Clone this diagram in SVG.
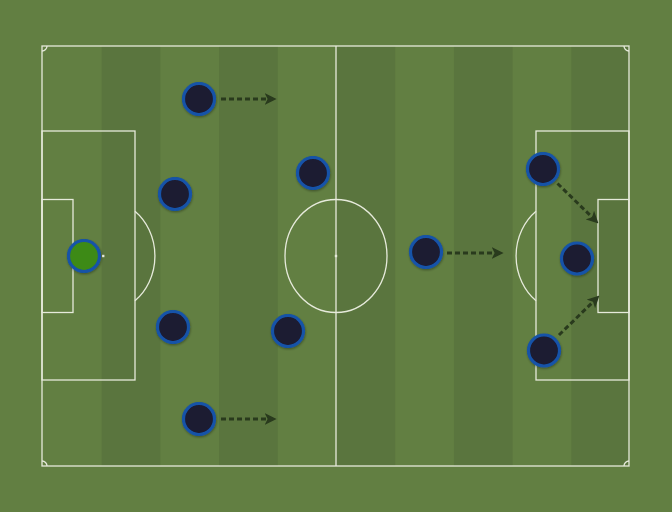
<svg xmlns="http://www.w3.org/2000/svg" width="672" height="512" viewBox="0 0 672 512">
<defs>
<style>
.ln{fill:none;stroke:#e6eadb;stroke-width:1.3}
.stripe{fill:#5a753e}
.pl{fill:#1c1a30;stroke:#1452a8;stroke-width:3.2}
.gk{fill:#3e8a15;stroke:#1452a8;stroke-width:3.2}
.ar{fill:none;stroke:#293a1d;stroke-width:3;stroke-dasharray:5 3;marker-end:url(#ah)}
</style>
<marker id="ah" markerUnits="userSpaceOnUse" markerWidth="12" markerHeight="12" refX="7" refY="5" orient="auto" viewBox="0 0 10 10">
<path d="M0,0 L10,5 L0,10 L2.5,5 Z" fill="#293a1d"/>
</marker>
<filter id="sh" x="-30%" y="-30%" width="160%" height="160%">
<feDropShadow dx="0.5" dy="1.2" stdDeviation="1" flood-color="#000" flood-opacity="0.35"/>
</filter>
</defs>
<rect width="672" height="512" fill="#627f42"/>
<g id="pitch">
<rect class="stripe" x="101.7" y="46" width="58.7" height="420"/>
<rect class="stripe" x="219.1" y="46" width="58.7" height="420"/>
<rect class="stripe" x="336.5" y="46" width="58.7" height="420"/>
<rect class="stripe" x="453.9" y="46" width="58.7" height="420"/>
<rect class="stripe" x="571.3" y="46" width="58.7" height="420"/>
<rect class="ln" x="42" y="46" width="587" height="420"/>
<line class="ln" x1="336" y1="46" x2="336" y2="466"/>
<ellipse class="ln" cx="336" cy="256" rx="51" ry="56.5"/>
<rect x="334.8" y="254.8" width="2.4" height="2.4" fill="#e6eadb"/>
<rect class="ln" x="42" y="131" width="93" height="249"/>
<rect class="ln" x="42" y="199.5" width="31" height="113"/>
<path class="ln" d="M135,211.3 A51.3,56.5 0 0 1 135,300.7"/>
<rect x="102" y="254.8" width="2.4" height="2.4" fill="#e6eadb"/>
<rect class="ln" x="536" y="131" width="93" height="249"/>
<rect class="ln" x="598" y="199.5" width="31" height="113"/>
<path class="ln" d="M536,211.3 A51.3,56.5 0 0 0 536,300.7"/>
<rect x="566.3" y="254.8" width="2.4" height="2.4" fill="#e6eadb"/>
<path class="ln" d="M42,51 A5,5 0 0 0 47,46"/>
<path class="ln" d="M624,46 A5,5 0 0 0 629,51"/>
<path class="ln" d="M42,461 A5,5 0 0 1 47,466"/>
<path class="ln" d="M624,466 A5,5 0 0 1 629,461"/>
</g>
<g id="connectors">
<line class="ar" x1="221" y1="99" x2="273" y2="99"/>
<line class="ar" x1="221" y1="419" x2="273" y2="419"/>
<line class="ar" x1="447" y1="253" x2="500" y2="253"/>
<line class="ar" x1="557.5" y1="183.5" x2="595.9" y2="220.9"/>
<line class="ar" x1="559" y1="335" x2="596.9" y2="298.1"/>
</g>
<g id="gk" filter="url(#sh)"><circle class="gk" cx="84" cy="256" r="15.5"/></g>
<g id="p2" filter="url(#sh)"><circle class="pl" cx="199" cy="99" r="15.5"/></g>
<g id="p3" filter="url(#sh)"><circle class="pl" cx="175" cy="194" r="15.5"/></g>
<g id="p4" filter="url(#sh)"><circle class="pl" cx="173" cy="327" r="15.5"/></g>
<g id="p5" filter="url(#sh)"><circle class="pl" cx="199" cy="419" r="15.5"/></g>
<g id="p6" filter="url(#sh)"><circle class="pl" cx="313" cy="173" r="15.5"/></g>
<g id="p7" filter="url(#sh)"><circle class="pl" cx="288" cy="331" r="15.5"/></g>
<g id="p8" filter="url(#sh)"><circle class="pl" cx="426" cy="252" r="15.5"/></g>
<g id="p9" filter="url(#sh)"><circle class="pl" cx="543" cy="169" r="15.5"/></g>
<g id="p10" filter="url(#sh)"><circle class="pl" cx="577" cy="258.5" r="15.5"/></g>
<g id="p11" filter="url(#sh)"><circle class="pl" cx="544" cy="350.5" r="15.5"/></g>
</svg>
